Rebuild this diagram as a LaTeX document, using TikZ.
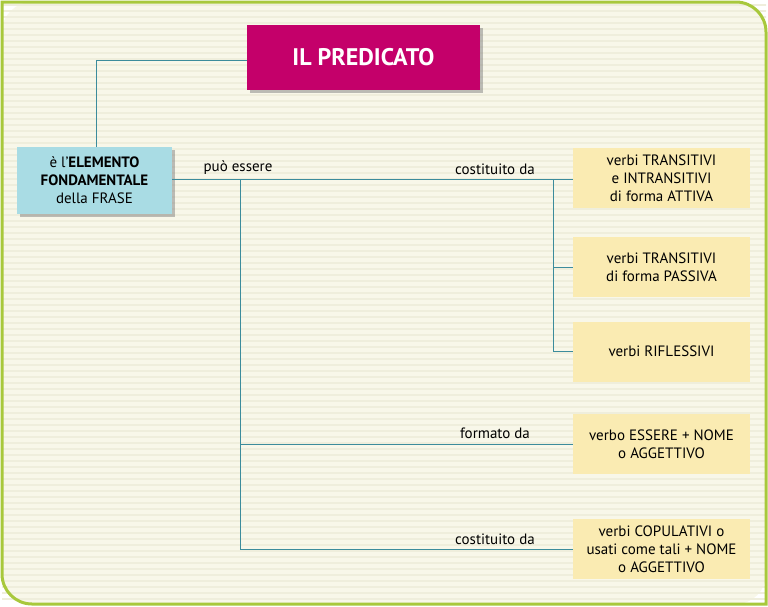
\documentclass[tikz,border=0pt]{standalone}
\usepackage{fontspec}
\setmainfont{PT Sans}
\usetikzlibrary{positioning,shadows}
\definecolor{paper}{HTML}{F8F7E9}
\definecolor{stripe}{HTML}{EFEEDC}
\definecolor{rim}{HTML}{A8C83C}
\definecolor{magenta}{HTML}{C4006A}
\definecolor{sky}{HTML}{A9DCE4}
\definecolor{straw}{HTML}{FAEBB2}
\definecolor{wire}{HTML}{3C8C9C}
\tikzset{
  verbbox/.style={fill=straw, minimum width=177pt, minimum height=60pt, align=center, font=\fontsize{15}{18}\selectfont},
  wirelink/.style={draw=wire, line width=0.6pt},
  lab/.style={font=\fontsize{15}{17}\selectfont, anchor=south}
}
\begin{document}
\begin{tikzpicture}[x=1pt,y=-1pt]
\useasboundingbox (0,0) rectangle (768,606);
% frame
\fill[paper, rounded corners=30pt] (2,2) -- (766,2) -- (766,604) -- (2,604) -- cycle;
\begin{scope}
\clip (2,2) rectangle (766,604);
\foreach \y in {5,11,...,604}
  \draw[stripe, line width=2pt] (0,\y) -- (768,\y);
\end{scope}
\draw[rim, line width=3pt] (2,2) -- (736,2) arc[start angle=90, end angle=0, radius=30pt] -- (766,604) -- (32,604) arc[start angle=270, end angle=180, radius=30pt] -- cycle;
% nodes
\node[fill=magenta, drop shadow, minimum width=233pt, minimum height=65pt, text=white, font=\bfseries\fontsize{24}{26}\selectfont] (title) at (363.5,57.5) {IL PREDICATO};
\node[fill=sky, drop shadow, minimum width=155pt, minimum height=67pt, align=center, font=\fontsize{15}{18}\selectfont] (elem) at (94.5,180.5) {è l'\textbf{ELEMENTO}\\\textbf{FONDAMENTALE}\\della FRASE};
\node[verbbox] (att) at (661.5,178) {verbi TRANSITIVI\\e INTRANSITIVI\\di forma ATTIVA};
\node[verbbox] (pass) at (661.5,267) {verbi TRANSITIVI\\di forma PASSIVA};
\node[verbbox] (rifl) at (661.5,351.5) {verbi RIFLESSIVI};
\node[verbbox] (ess) at (661.5,444) {verbo ESSERE + NOME\\o AGGETTIVO};
\node[verbbox] (cop) at (661.5,549) {verbi COPULATIVI o\\usati come tali + NOME\\o AGGETTIVO};
% connectors
\coordinate (bend) at (96,60);
\draw[wirelink] (elem.north -| bend) -- (bend) -- (title.west |- bend);
\coordinate (trunk) at (240,179);
\coordinate (fork) at (553,179);
\draw[wirelink] (elem.east |- trunk) -- (att.west |- trunk);
\draw[wirelink] (trunk) -- (trunk |- cop.west) -- (cop.west);
\draw[wirelink] (trunk |- ess.west) -- (ess.west);
\draw[wirelink] (fork) -- (fork |- rifl.west) -- (rifl.west);
\draw[wirelink] (fork |- pass.west) -- (pass.west);
% labels
\node[lab] (puo) at (238,178) {può essere};
\node[lab] (cost1) at (495,178) {costituito da};
\node[lab] (form) at (495,442) {formato da};
\node[lab] (cost2) at (495,548) {costituito da};
\end{tikzpicture}
\end{document}
